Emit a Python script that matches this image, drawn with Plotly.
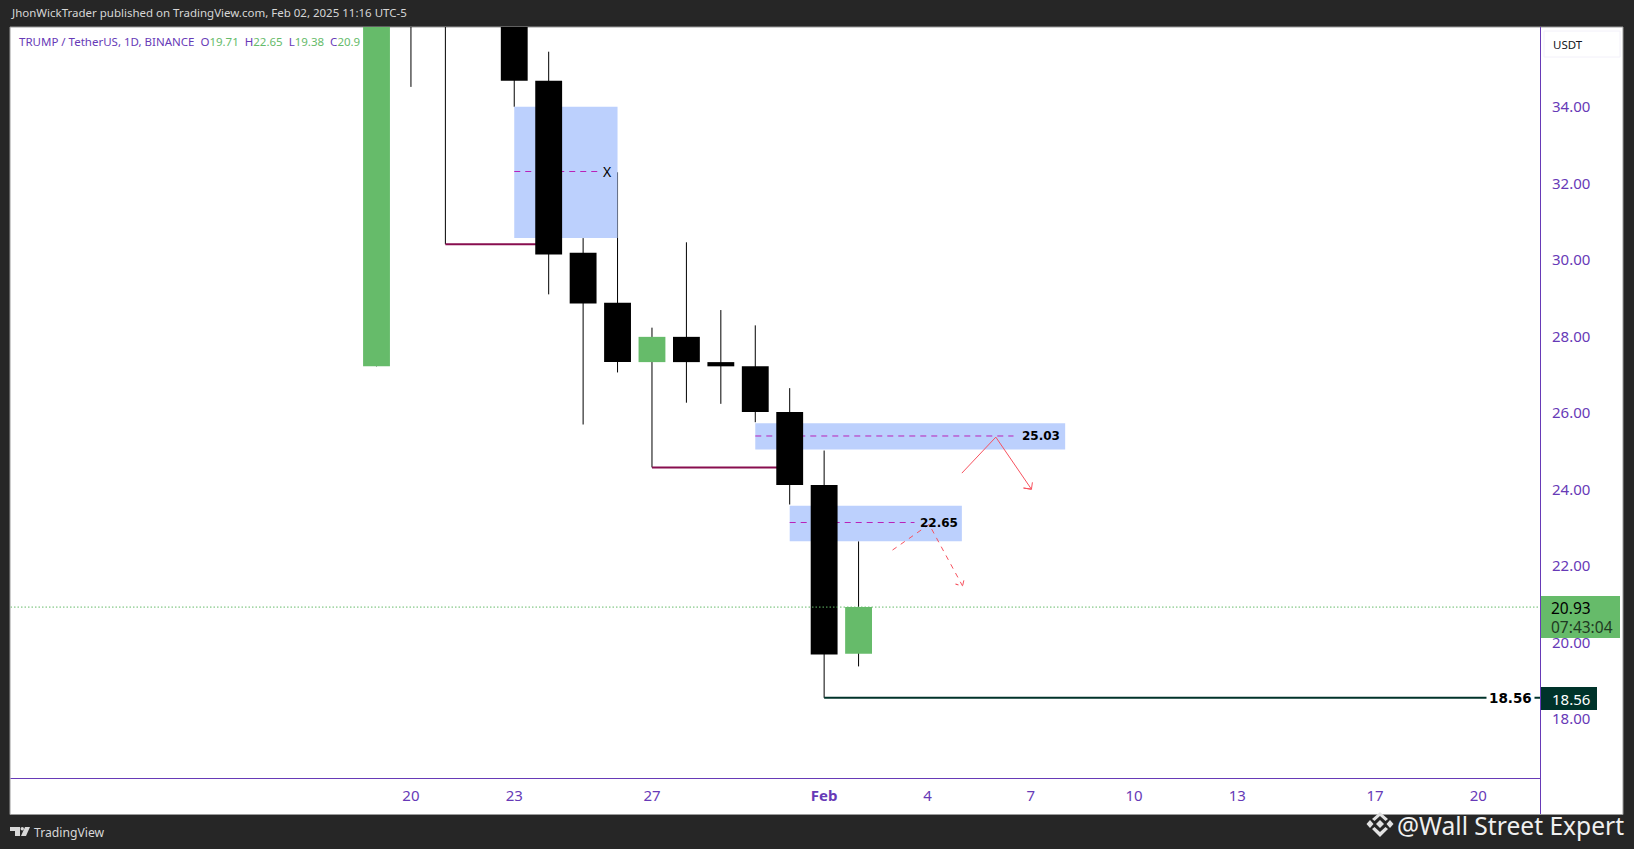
import pandas as pd
import plotly.graph_objects as go

W, H = 1634, 849
PURPLE = "#673ab7"
GREEN = "#66bb6a"
BLUE = "#bcd0fd"
MAGENTA = "#b922b9"
MAROON = "#880e4f"
DARK_GREEN = "#00332a"
RED = "#f7525f"
DARK_BG = "#262626"
TICK_FONT = "Noto Sans"

# STEP 1: Candles (the first ones run above the visible range)
dates = ["2025-01-19", "2025-01-20", "2025-01-21", "2025-01-22", "2025-01-23", "2025-01-24",
         "2025-01-25", "2025-01-26", "2025-01-27", "2025-01-28", "2025-01-29", "2025-01-30",
         "2025-01-31", "2025-02-01", "2025-02-02"]
opens = [27.22, 41.50, 39.00, 38.80, 38.00, 34.68, 30.19, 28.88, 27.33, 27.99, 27.33, 27.22, 26.03, 24.12, 19.71]
closes = [39.00, 39.50, 38.80, 38.00, 34.68, 30.14, 28.86, 27.33, 27.99, 27.33, 27.22, 26.03, 24.12, 19.69, 20.93]
highs = [44.00, 42.00, 40.00, 39.50, 38.50, 35.44, 30.57, 32.29, 28.23, 30.46, 28.69, 28.29, 26.65, 25.02, 22.65]
lows = [27.22, 34.52, 30.41, 37.00, 34.00, 29.10, 25.70, 27.06, 24.58, 26.27, 26.24, 25.76, 23.61, 18.56, 19.38]
body_colors = [GREEN if c > o else "black" for o, c in zip(opens, closes)]
# wick trace only: its box collapses to the middle of the real body, which hides it
body_mids = [(o + c) / 2 for o, c in zip(opens, closes)]

# STEP 2: Axis ticks
y_ticks = [18, 20, 22, 24, 26, 28, 30, 32, 34]
y_labels = ["18.00", "20.00", "22.00", "24.00", "26.00", "28.00", "30.00", "32.00", "34.00"]
x_ticks = ["2025-01-20", "2025-01-23", "2025-01-27", "2025-02-01", "2025-02-04", "2025-02-07",
           "2025-02-10", "2025-02-13", "2025-02-17", "2025-02-20"]
x_labels = ["20", "23", "27", "<b>Feb</b>", "4", "7", "10", "13", "17", "20"]
x_range = ["2025-01-08 08:53", "2025-02-21 18:58"]
y_range = [16.465, 36.085]

# STEP 3: Drawings on the chart
zone1_x = ["2025-01-23", "2025-01-26"]
zone1_y = [30.57, 34.00]
zone2_x = ["2025-01-30", "2025-02-08"]
zone2_y = [25.05, 25.73]
zone3_x = ["2025-01-31", "2025-02-05"]
zone3_y = [22.65, 23.58]
dash1_x = ["2025-01-23", "2025-01-25 10:00"]
dash1_y = [32.31, 32.31]
dash2_x = ["2025-01-30", "2025-02-06 12:00"]
dash2_y = [25.40, 25.40]
dash3_x = ["2025-01-31", "2025-02-03 15:00"]
dash3_y = [23.14, 23.14]
sweep1_x = ["2025-01-21", "2025-01-24"]
sweep1_y = [30.41, 30.41]
sweep2_x = ["2025-01-27", "2025-01-31"]
sweep2_y = [24.58, 24.58]
low_x = ["2025-02-01", x_range[1]]
low_y = [18.56, 18.56]
last_x = x_range
last_y = [20.93, 20.93]
arrow1_x = ["2025-02-05 00:00", "2025-02-05 23:40", "2025-02-07 00:30", "2025-02-06 19:00", "2025-02-07 00:30", "2025-02-07 01:10"]
arrow1_y = [24.43, 25.37, 24.01, 24.04, 24.01, 24.19]
arrow2_x = ["2025-02-02 23:40", "2025-02-04 01:10", "2025-02-05 00:30", "2025-02-04 19:40", "2025-02-05 00:30", "2025-02-05 01:30"]
arrow2_y = [22.42, 23.09, 21.48, 21.53, 21.48, 21.65]


def px(x):
    return x / W


def py(y):
    return 1 - y / H


def box(x0, y0, x1, y1, color, line=None, layer="above"):
    return dict(type="rect", xref="paper", yref="paper", x0=px(x0), x1=px(x1), y0=py(y0), y1=py(y1),
                fillcolor=color, line=dict(color=line or color, width=1 if line else 0), layer=layer)


def rule(x0, y0, x1, y1, color=PURPLE):
    return dict(type="line", xref="paper", yref="paper", x0=px(x0), x1=px(x1), y0=py(y0), y1=py(y1),
                line=dict(color=color, width=1), layer="above")


def poly(points, color):
    path = "M " + " L ".join(f"{px(a):.5f},{py(b):.5f}" for a, b in points) + " Z"
    return dict(type="path", xref="paper", yref="paper", path=path, fillcolor=color, line=dict(width=0), layer="above")


def zone(xs, ys):
    return go.Scatter(x=[xs[0], xs[1], xs[1], xs[0], xs[0]], y=[ys[0], ys[0], ys[1], ys[1], ys[0]],
                      mode="lines", fill="toself", fillcolor=BLUE, line=dict(width=0))


def seg(xs, ys, color, width=1, dash="solid", axes=("x", "y")):
    return go.Scatter(x=xs, y=ys, mode="lines", line=dict(color=color, width=width, dash=dash),
                      xaxis=axes[0], yaxis=axes[1])


fig = go.Figure()

# STEP 4: Wicks first, zones cover them, bodies go on an overlay axis so they sit above the zones
fig.add_trace(go.Candlestick(x=dates, open=body_mids, high=highs, low=lows, close=body_mids, whiskerwidth=0,
                             increasing=dict(line=dict(color="black", width=1), fillcolor="black"),
                             decreasing=dict(line=dict(color="black", width=1), fillcolor="black")))
fig.add_trace(zone(zone1_x, zone1_y))
fig.add_trace(zone(zone2_x, zone2_y))
fig.add_trace(zone(zone3_x, zone3_y))
fig.add_trace(seg(dash1_x, dash1_y, MAGENTA, dash="6px,5px"))
fig.add_trace(seg(dash2_x, dash2_y, MAGENTA, dash="6px,5px"))
fig.add_trace(seg(dash3_x, dash3_y, MAGENTA, dash="6px,5px"))
fig.add_trace(seg(sweep1_x, sweep1_y, MAROON, width=2))
fig.add_trace(seg(sweep2_x, sweep2_y, MAROON, width=2))
fig.add_trace(seg(low_x, low_y, DARK_GREEN, width=2))

fig.add_trace(go.Bar(x=dates, y=[abs(c - o) for o, c in zip(opens, closes)],
                     base=[min(o, c) for o, c in zip(opens, closes)],
                     width=0.78 * 86400000, marker=dict(color=body_colors, line=dict(width=0)),
                     xaxis="x2", yaxis="y2"))
fig.add_trace(seg(last_x, last_y, GREEN, dash="1.5px,2px", axes=("x2", "y2")))
fig.add_trace(seg(arrow1_x, arrow1_y, RED, axes=("x2", "y2")))
fig.add_trace(seg(arrow2_x, arrow2_y, RED, dash="5px,5px", axes=("x2", "y2")))

# STEP 5: Panel, tags, logos
shapes = [
    box(10, 27, 1623, 814.5, "white", line="#9a9a9a", layer="below"),
    rule(1540.5, 27, 1540.5, 814),
    rule(10.5, 778.5, 1540.5, 778.5),
    box(1544, 31, 1620, 57, "white", line="#f2f0f9"),
    box(1541, 596, 1620, 638, GREEN),
    box(1541, 687, 1597, 710, DARK_GREEN),
    # binance mark
    poly([(1380, 820), (1384, 824), (1380, 828), (1376, 824)], "#e2e2e2"),
    poly([(1370, 820), (1373.5, 824), (1370, 828), (1366.5, 824)], "#e2e2e2"),
    poly([(1390, 820), (1393.5, 824), (1390, 828), (1386.5, 824)], "#e2e2e2"),
    poly([(1380, 812), (1388, 819), (1385.5, 821), (1380, 816), (1374.5, 821), (1372, 819)], "#e2e2e2"),
    poly([(1380, 837), (1388, 829), (1385.5, 827), (1380, 832), (1374.5, 827), (1372, 829)], "#e2e2e2"),
    # tradingview mark
    poly([(10, 827), (20, 827), (20, 836), (15, 836), (15, 831), (10, 831)], "#d8d8d8"),
    poly([(25, 827), (30, 827), (26, 836), (21, 836)], "#d8d8d8"),
    dict(type="circle", xref="paper", yref="paper", x0=px(20.5), x1=px(24), y0=py(827), y1=py(830.5),
         fillcolor="#d8d8d8", line=dict(width=0), layer="above"),
]

legend_text = (f'TRUMP / TetherUS, 1D, BINANCE  O<span style="color:{GREEN}">19.71</span>  '
               f'H<span style="color:{GREEN}">22.65</span>  L<span style="color:{GREEN}">19.38</span>  '
               f'C<span style="color:{GREEN}">20.9</span>')


def label(x, y, text, color="black", size=12, family="DejaVu Sans", anchor="center", bg=None):
    return dict(xref="paper", yref="paper", x=px(x), y=py(y), text=text, showarrow=False, xanchor=anchor,
                yanchor="middle", font=dict(color=color, size=size, family=family), bgcolor=bg, borderpad=0)


def data_label(x, y, text, bg=None, size=12, family="DejaVu Sans"):
    return dict(xref="x", yref="y", x=x, y=y, text=text, showarrow=False, xanchor="center",
                yanchor="middle", font=dict(color="black", size=size, family=family), bgcolor=bg, borderpad=2)


annotations = [
    label(10, 13, "JhonWickTrader published on TradingView.com, Feb 02, 2025 11:16 UTC-5", "#d6d6d6", 11.5, TICK_FONT, "left"),
    label(18, 41, legend_text, PURPLE, 11.5, TICK_FONT, "left"),
    label(1567.5, 44, "USDT", "#131722", 11.5, TICK_FONT),
    label(1571, 607.5, "20.93", "black", 15.5, TICK_FONT),
    label(1582, 626.5, "07:43:04", "#1f3a22", 15.5, TICK_FONT),
    label(1571, 698.5, "18.56", "white", 15, TICK_FONT),
    label(33, 832, "TradingView", "#d8d8d8", 12.2, TICK_FONT, "left"),
    label(1396, 825, "@Wall Street Expert", "#f0f0f0", 24.6, TICK_FONT, "left"),
    data_label("2025-01-25 17:00", 32.31, "X", size=14, family=TICK_FONT),
    data_label("2025-02-07 07:00", 25.40, "<b>25.03</b>"),
    data_label("2025-02-04 08:00", 23.14, "<b>22.65</b>"),
    data_label("2025-02-20 22:30", 18.56, "<b>18.56</b>", bg="white", size=13.5),
]

x_domain = [px(10.5), px(1540)]
y_domain = [py(778), py(27)]

fig.update_layout(
    width=W, height=H, autosize=False, showlegend=False, hovermode=False,
    margin=dict(l=0, r=0, t=0, b=0),
    paper_bgcolor=DARK_BG, plot_bgcolor="white",
    barmode="overlay",
    shapes=shapes, annotations=annotations,
    xaxis=dict(domain=x_domain, range=x_range, type="date", tickmode="array", tickvals=x_ticks, ticktext=x_labels,
               showgrid=False, zeroline=False, showline=False,
               ticks="", ticklabelstandoff=7, rangeslider=dict(visible=False),
               tickfont=dict(color=PURPLE, size=15, family=TICK_FONT), anchor="y"),
    yaxis=dict(domain=y_domain, range=y_range, side="right", tickmode="array", tickvals=y_ticks, ticktext=y_labels,
               showgrid=False, zeroline=False, showline=False,
               ticks="", ticklabelstandoff=11,
               tickfont=dict(color=PURPLE, size=15, family=TICK_FONT), anchor="x"),
    xaxis2=dict(domain=x_domain, range=x_range, type="date", overlaying="x", visible=False, anchor="y2"),
    yaxis2=dict(domain=y_domain, range=y_range, overlaying="y", visible=False, anchor="x2"),
)

fig.write_html("out.html", config={"displayModeBar": False},
               post_script="document.body.style.margin='0';document.body.style.background='#262626';")
